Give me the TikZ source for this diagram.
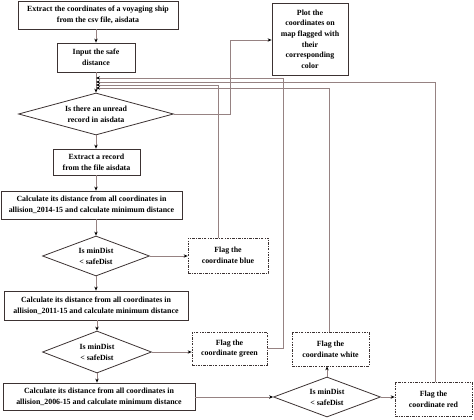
\documentclass[tikz,border=0pt]{standalone}
\usepackage{fontspec}
\setmainfont{Liberation Serif}
\usetikzlibrary{shapes.geometric,arrows.meta}
\definecolor{edgec}{RGB}{60,50,50}
\definecolor{linec}{RGB}{150,130,130}
\tikzset{
  every node/.style={font=\fontsize{7.9}{10.6}\selectfont\bfseries, align=center, inner sep=0pt},
  procbox/.style={draw=edgec, line width=0.8pt, rectangle},
  flagbox/.style={draw=edgec, line width=0.7pt, rectangle, dash pattern=on 2.5pt off 1.2pt on 0.8pt off 1.2pt},
  decis/.style={draw=edgec, line width=0.8pt, diamond},
  conn/.style={draw=linec, line width=0.7pt, arrows={-{Stealth[length=4pt,width=3.4pt,color=black]}}},
}
\begin{document}
\begin{tikzpicture}[x=1pt,y=-1pt]
\useasboundingbox (0,0) rectangle (474,420);
% process boxes
\node[procbox, minimum width=160pt, minimum height=28pt] (n1) at (98,15) {Extract the coordinates of a voyaging ship\\from the csv file, aisdata};
\node[procbox, minimum width=78pt, minimum height=29pt] (n2) at (96,57.5) {Input the safe\\distance};
\node[decis, minimum width=155pt, minimum height=42pt, aspect=3.7] (d1) at (96,114) {Is there an unread\\record in aisdata};
\node[procbox, minimum width=87pt, minimum height=26pt] (n3) at (96.5,162) {Extract a record\\from the file aisdata};
\node[procbox, minimum width=181pt, minimum height=28pt] (n4) at (91.5,205) {Calculate its distance from all coordinates in\\allision\_2014-15 and calculate minimum distance};
\node[decis, minimum width=107pt, minimum height=40pt, aspect=2.7] (d2) at (96,256) {Is minDist\\< safeDist};
\node[procbox, minimum width=184pt, minimum height=29pt] (n5) at (96,305.5) {Calculate its distance from all coordinates in\\allision\_2011-15 and calculate minimum distance};
\node[decis, minimum width=109pt, minimum height=42pt, aspect=2.6] (d3) at (97,352) {Is minDist\\< safeDist};
\node[procbox, minimum width=192pt, minimum height=27pt] (n6) at (99,396.5) {Calculate its distance from all coordinates in\\allision\_2006-15 and calculate minimum distance};
\node[decis, minimum width=107pt, minimum height=40pt, aspect=2.7] (d4) at (327,397) {Is minDist\\< safeDist};
% flag boxes
\node[flagbox, minimum width=80pt, minimum height=35pt] (blue) at (228,255.5) {Flag the\\coordinate blue};
\node[flagbox, minimum width=75pt, minimum height=33pt] (green) at (229.5,348.5) {Flag the\\coordinate green};
\node[flagbox, minimum width=77pt, minimum height=34pt] (white) at (330.5,349) {Flag the\\coordinate white};
\node[flagbox, minimum width=77pt, minimum height=34pt] (red) at (433.5,399) {Flag the\\coordinate red};
\node[procbox, minimum width=76pt, minimum height=72pt] (plot) at (310,39) {Plot the\\coordinates on\\map flagged with\\their\\corresponding\\color};
% coordinates for loop-backs
\coordinate (m1) at (96,78);
\coordinate (m2) at (96,82);
\coordinate (m3) at (96,85);
\coordinate (m4) at (96,88);
% main flow
\draw[conn] (n1.south -| n2) -- (n2.north);
\draw[conn] (n2.south) -- (d1.north);
\draw[conn] (d1.south) -- (n3.north -| d1.south);
\draw[conn] (n3.south -| d1.south) -- (n4.north -| d1.south);
\draw[conn] (n4.south -| d2.north) -- (d2.north);
\draw[conn] (d2.east) -- (blue.west |- d2.east);
\draw[conn] (d2.south) -- (n5.north -| d2.south);
\draw[conn] (n5.south -| d3.north) -- (d3.north);
\draw[conn] (d3.east) -- (green.west |- d3.east);
\draw[conn] (d3.south) -- (n6.north -| d3.south);
\draw[conn] (n6.east |- d4.west) -- (d4.west);
\draw[conn] (d4.north) -- (d4.north |- white.south);
\draw[conn] (d4.east) -- (red.west |- d4.east);
\draw[conn] (d1.east) -- (230,114) -- (230,40) -- (plot.west |- 0,40);
% loop-backs
\draw[conn] (green.east) -- (283,348.5) -- (283,78) -- (m1);
\draw[conn] (435,382) -- (435,82) -- (m2);
\draw[conn] (218,238) -- (218,85) -- (m3);
\draw[conn] (329,332) -- (329,88) -- (m4);
\end{tikzpicture}
\end{document}
